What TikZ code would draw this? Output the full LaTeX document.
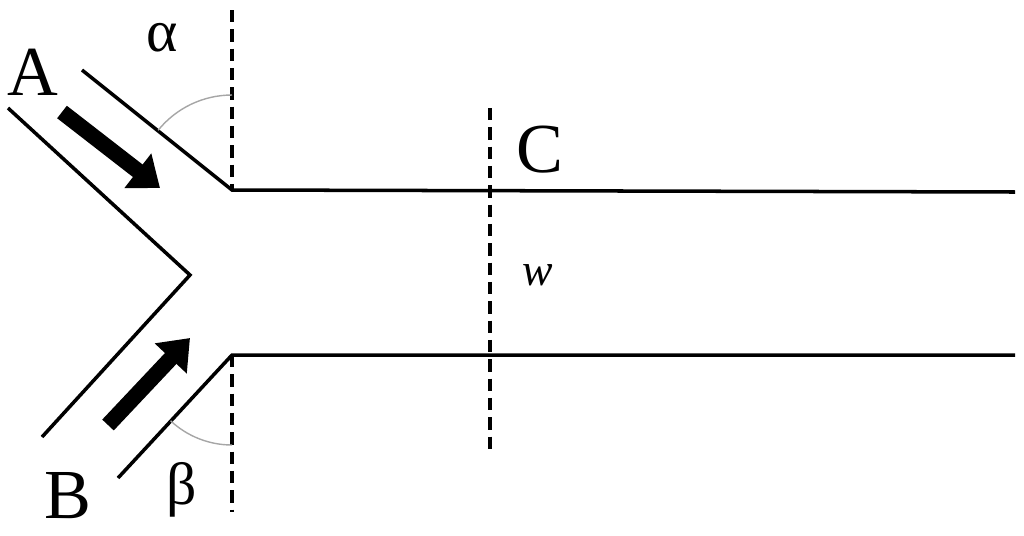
\documentclass[tikz,border=0pt]{standalone}
\usepackage{fontspec}
\setmainfont{Liberation Serif}
\usetikzlibrary{arrows.meta}
\begin{document}
\begin{tikzpicture}[x=0.02cm,y=-0.02cm,
  wall/.style={line width=2pt},
  dashline/.style={line width=1.8pt,dash pattern=on 7pt off 4pt},
  ang/.style={gray!70,line width=0.8pt},
  fat/.style={line width=9pt,-{Triangle[length=16pt,width=24pt]}},
  lbl/.style={font=\fontsize{40}{40}\selectfont,inner sep=0pt}]
\useasboundingbox (0,0) rectangle (1024,535);
\coordinate (a0) at (82,70); \coordinate (j1) at (232,190); \coordinate (e1) at (1015,192);
\coordinate (i0) at (8,108); \coordinate (i1) at (190,275); \coordinate (i2) at (42,437);
\coordinate (b0) at (118,478); \coordinate (j2) at (232,355); \coordinate (e2) at (1015,355);
\draw[wall] (a0) -- (j1) -- (e1);
\draw[wall] (i0) -- (i1) -- (i2);
\draw[wall] (b0) -- (j2) -- (e2);
\coordinate (d1) at (232,10); \coordinate (d2) at (232,512);
\coordinate (c1) at (490,108); \coordinate (c2) at (490,450);
\draw[dashline] (d1) -- (j1);
\draw[dashline] (j2) -- (d2);
\draw[dashline] (c1) -- (c2);
\draw[ang] (j1) ++(-90:95) arc (-90:-141:95);
\draw[ang] (j2) ++(90:90) arc (90:133:90);
\coordinate (aa) at (62,112); \coordinate (ab) at (160,188);
\coordinate (ba) at (108,425); \coordinate (bb) at (190,338);
\draw[fat] (aa) -- (ab);
\draw[fat] (ba) -- (bb);
\node[lbl] (A) at (33,72) {A};
\node[lbl] (B) at (68,496) {B};
\node[lbl] (C) at (540,150) {C};
\node[lbl,font=\fontsize{34}{34}\selectfont] (al) at (162,38) {α};
\node[lbl,font=\fontsize{34}{34}\selectfont] (be) at (182,490) {β};
\node[lbl,font=\fontsize{26}{26}\selectfont\itshape] (w) at (538,275) {w};
\end{tikzpicture}
\end{document}
